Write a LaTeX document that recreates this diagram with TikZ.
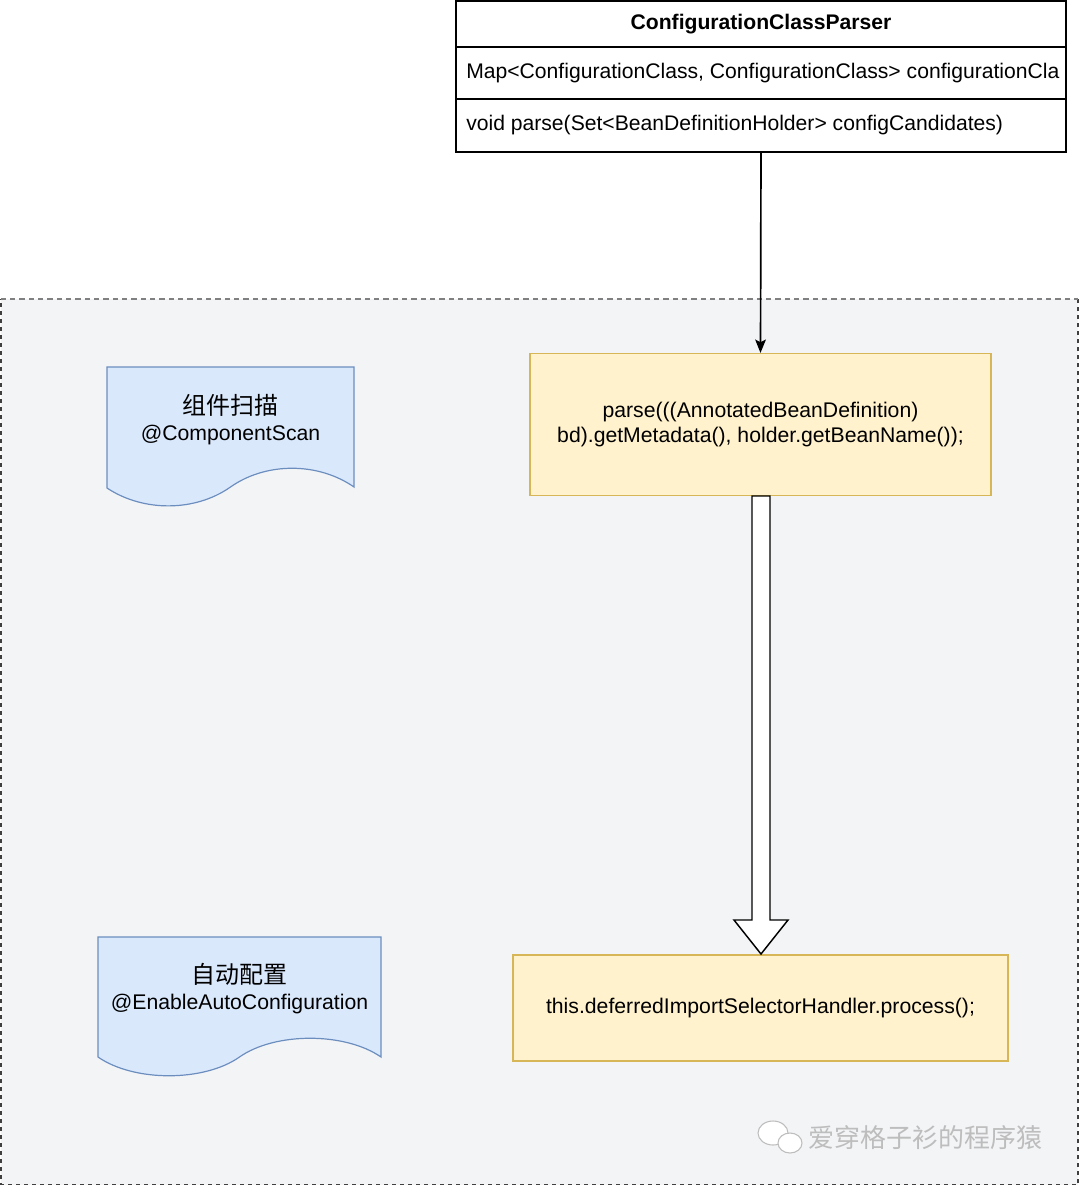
\documentclass[tikz,border=0pt]{standalone}
\usepackage{fontspec}
\setmainfont{Liberation Sans}
\newfontfamily\cjk{Noto Sans CJK SC}
\usetikzlibrary{arrows.meta}
\definecolor{contfill}{HTML}{F3F4F6}
\definecolor{docfill}{HTML}{DAE8FC}
\definecolor{docline}{HTML}{6C8EBF}
\definecolor{yelfill}{HTML}{FFF2CC}
\definecolor{yelline}{HTML}{D6B656}
\definecolor{wmgray}{HTML}{BDBDBD}
\tikzset{
  umlrow/.style={draw=black, fill=white, line width=1.1pt, minimum width=457.5pt, inner sep=0pt},
  smalltxt/.style={font=\fontsize{15.85pt}{18pt}\selectfont, inner sep=0pt},
  yelbox/.style={draw=yelline, fill=yelfill, line width=0.9pt, inner sep=0pt, align=center, font=\fontsize{15.9pt}{19pt}\selectfont},
  docshape/.style={draw=docline, fill=docfill, line width=0.9pt},
  conn/.style={draw=black, line width=1.25pt, -{Stealth[length=10pt,width=8pt,inset=2pt]}},
  blockarrow/.style={draw=black, fill=white, line width=1.1pt, line join=miter},
  wm/.style={text=wmgray, font=\cjk\fontsize{19.5pt}{22pt}\selectfont, inner sep=0pt}
}
\begin{document}
\begin{tikzpicture}[x=0.75pt, y=-0.75pt]
\useasboundingbox (0,0) rectangle (1080,1186);
\fill[white] (0,0) rectangle (1080,1186);
% container
\fill[contfill] (0.8,299) rectangle (1078,1184.5);
\draw[black!75, line width=1.1pt, dash pattern=on 3pt off 3pt] (1078,299) -- (1078,1184.5) -- (0.8,1184.5) -- (0.8,299);
\draw[black!50, line width=1pt, dash pattern=on 4pt off 3pt] (0.8,299) -- (1078,299);

% class box
\node[umlrow, minimum height=34.5pt, font=\bfseries\fontsize{15.85pt}{18pt}\selectfont] (title) at (761,24) {ConfigurationClassParser};
\node[umlrow, minimum height=39pt] (attr) at (761,73) {};
\node[smalltxt, anchor=west] (attrtxt) at (466,73) {Map<ConfigurationClass, ConfigurationClass> configurationCla};
\node[umlrow, minimum height=39.75pt] (meth) at (761,125.5) {};
\node[smalltxt, anchor=west] (methtxt) at (466,125.5) {void parse(Set<BeanDefinitionHolder> configCandidates)};

% yellow boxes
\node[yelbox, minimum width=345.75pt, minimum height=106.5pt] (box1) at (760.5,424.5) {\raisebox{-3pt}{\parbox{340pt}{\centering parse(((AnnotatedBeanDefinition)\\bd).getMetadata(), holder.getBeanName());}}};
\node[yelbox, minimum width=371.25pt, minimum height=79.5pt] (box2) at (760.5,1008) {this.deferredImportSelectorHandler.process();};

% connector
\draw[conn] (meth.south) -- (box1.north);

% block arrow
\draw[blockarrow] (752,496) -- (752,920) -- (734,920) -- (761,954) -- (788,920) -- (770,920) -- (770,496) -- cycle;

% document shape 1
\draw[docshape] (107,367) -- (354,367) -- (354,487)
  .. controls (318,462) and (266,462) .. (230.5,487)
  .. controls (195,512) and (143,512) .. (107,488) -- cycle;
\node[inner sep=0pt, font=\cjk\fontsize{18pt}{20pt}\selectfont] (doc1title) at (230.5,405) {组件扫描};
\node[inner sep=0pt, font=\fontsize{15.9pt}{18pt}\selectfont] (doc1sub) at (230.5,435) {@ComponentScan};

% document shape 2
\draw[docshape] (98,937) -- (381,937) -- (381,1057)
  .. controls (345,1032) and (275,1032) .. (239.5,1057)
  .. controls (204,1082) and (134,1082) .. (98,1057) -- cycle;
\node[inner sep=0pt, font=\cjk\fontsize{18pt}{20pt}\selectfont] (doc2title) at (239.5,974) {自动配置};
\node[inner sep=0pt, font=\fontsize{15.9pt}{18pt}\selectfont] (doc2sub) at (239.5,1004.5) {@EnableAutoConfiguration};

% watermark
\draw[wmgray, fill=white, line width=0.8pt] (773,1133) ellipse [x radius=15, y radius=12];
\draw[wmgray, fill=white, line width=0.8pt] (790,1143) ellipse [x radius=12, y radius=10];
\node[wm, anchor=west] (wmtxt) at (808,1138) {爱穿格子衫的程序猿};
\end{tikzpicture}
\end{document}
